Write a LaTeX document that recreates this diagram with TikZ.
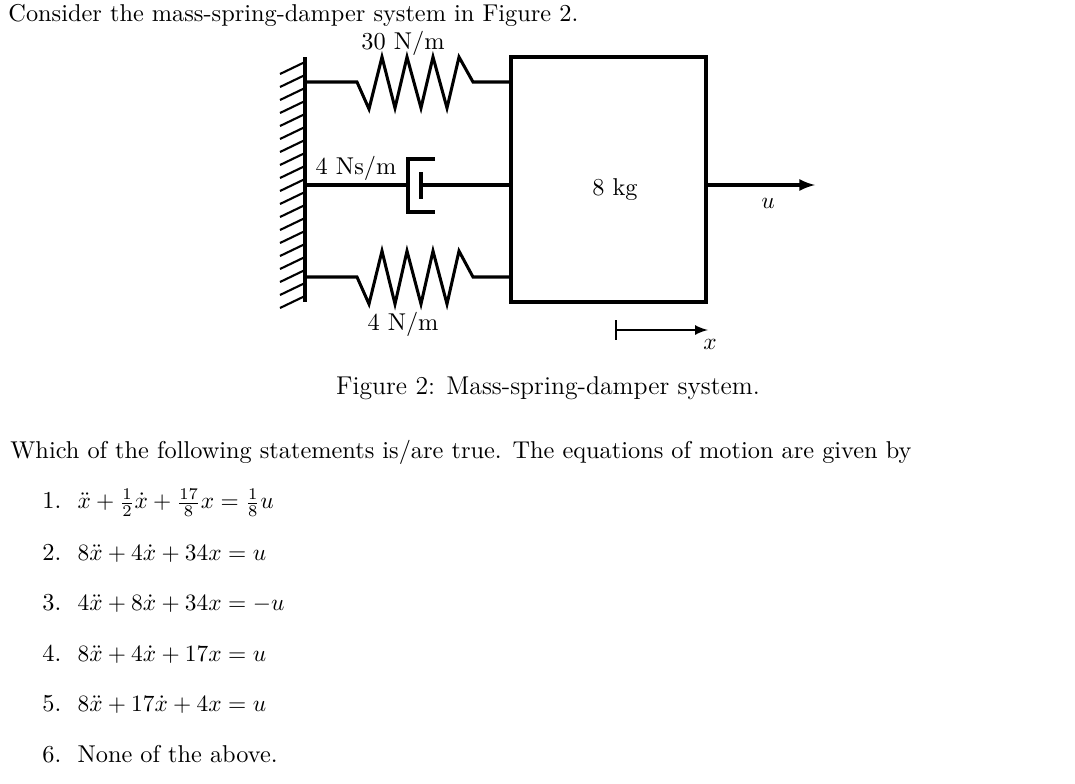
\documentclass[tikz,border=0pt]{standalone}
\begin{document}
\begin{tikzpicture}[x=0.4274pt,y=-0.4274pt,
  every node/.style={font=\fontsize{10.4}{12.5}\selectfont},
  ln/.style={line width=1.3pt},
  bx/.style={line width=1.5pt},
  lbl/.style={inner sep=0pt},
  txt/.style={anchor=west,inner sep=0pt}]
\useasboundingbox (0,0) rectangle (1075,784);
% wall
\draw[ln] (305,57) -- (305,302);
\foreach \y in {62,75,...,300} \draw[line width=0.9pt] (305,\y) -- (280,\y+12);
% top spring
\coordinate (w1) at (305,82);
\coordinate (m1) at (511,82);
\draw[ln] (w1) -- (357,82) -- (369,109) -- (382,57) -- (395,108) -- (407,57) -- (421,108) -- (433,57) -- (447,108) -- (459,57) -- (473,82) -- (m1);
% bottom spring
\coordinate (w3) at (305,277);
\coordinate (m3) at (511,277);
\draw[ln] (w3) -- (357,277) -- (369,304) -- (382,251) -- (395,304) -- (407,251) -- (421,304) -- (433,251) -- (447,304) -- (459,251) -- (473,277) -- (m3);
% damper
\coordinate (w2) at (305,185);
\coordinate (m2) at (511,185);
\draw[ln] (w2) -- (408,185);
\draw[ln] (435,159) -- (408,159) -- (408,212) -- (435,212);
\draw[ln] (421,172) -- (421,199);
\draw[ln] (421,185) -- (m2);
% mass
\node[draw,bx,minimum width=195*0.4274pt,minimum height=245*0.4274pt,inner sep=0pt] (mass) at (608.5,179.5) {};
\node[lbl] at (615,190) {8 kg};
\coordinate (ue) at (815,185);
\draw[ln,-latex] (mass.east |- ue) -- (ue);
\node[lbl] at (768,203) {$u$};
% x arrow
\coordinate (xs) at (616,330);
\coordinate (xe) at (708,330);
\draw[line width=0.9pt] (616,320) -- (616,340);
\draw[line width=0.9pt,-latex] (xs) -- (xe);
\node[lbl] at (710,344) {$x$};
% labels
\node[lbl] at (403,43) {30 N/m};
\node[lbl] at (356,168) {4 Ns/m};
\node[lbl] at (403,324) {4 N/m};
\node[lbl,font=\fontsize{11}{13}\selectfont] at (548,388) {Figure 2: Mass-spring-damper system.};
\node[txt] at (8,15) {Consider the mass-spring-damper system in Figure 2.};
\node[txt] at (10,452) {Which of the following statements is/are true. The equations of motion are given by};
\node[txt] at (42,503) {1.\ \ $\ddot x+\frac12\dot x+\frac{17}{8}x=\frac18u$};
\node[txt] at (42,553) {2.\ \ $8\ddot x+4\dot x+34x=u$};
\node[txt] at (42,603) {3.\ \ $4\ddot x+8\dot x+34x=-u$};
\node[txt] at (42,654) {4.\ \ $8\ddot x+4\dot x+17x=u$};
\node[txt] at (42,704) {5.\ \ $8\ddot x+17\dot x+4x=u$};
\node[txt] at (42,754) {6.\ \ None of the above.};
\end{tikzpicture}
\end{document}
